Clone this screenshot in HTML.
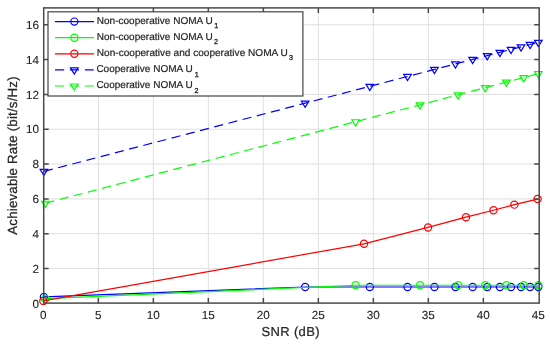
<!DOCTYPE html><html><head><meta charset="utf-8"><style>html,body{margin:0;padding:0;background:#fff;}svg{display:block;}text{text-rendering:geometricPrecision;font-family:"Liberation Sans",Arial,sans-serif;fill:#262626;stroke:#262626;stroke-width:0.22px;}</style></head><body>
<svg width="550" height="345" viewBox="0 0 550 345">
<rect width="550" height="345" fill="#fff"/>
<path d="M98.35,7.9V303.1M153.35,7.9V303.1M208.35,7.9V303.1M263.35,7.9V303.1M318.35,7.9V303.1M373.35,7.9V303.1M428.35,7.9V303.1M483.35,7.9V303.1M43.7,268.54H539.2M43.7,233.72H539.2M43.7,198.90H539.2M43.7,164.08H539.2M43.7,129.26H539.2M43.7,94.44H539.2M43.7,59.62H539.2M43.7,24.80H539.2" stroke="#dfdfdf" stroke-width="1" fill="none"/>
<defs><clipPath id="c"><rect x="37.35" y="1.3899999999999997" width="507.0" height="307.97"/></clipPath></defs>
<g clip-path="url(#c)">
<polyline points="43.90,296.92 305.15,286.99 369.81,286.99 407.50,286.99 434.45,286.99 455.45,286.99 472.66,286.99 487.23,286.99 499.88,286.99 511.04,286.99 521.04,286.99 530.09,286.99 538.35,286.99" fill="none" stroke="#0000ff" stroke-width="1.2"/>
<circle cx="43.90" cy="296.92" r="3.6" fill="none" stroke="#0000ff" stroke-width="1.2"/>
<circle cx="305.15" cy="286.99" r="3.6" fill="none" stroke="#0000ff" stroke-width="1.2"/>
<circle cx="369.81" cy="286.99" r="3.6" fill="none" stroke="#0000ff" stroke-width="1.2"/>
<circle cx="407.50" cy="286.99" r="3.6" fill="none" stroke="#0000ff" stroke-width="1.2"/>
<circle cx="434.45" cy="286.99" r="3.6" fill="none" stroke="#0000ff" stroke-width="1.2"/>
<circle cx="455.45" cy="286.99" r="3.6" fill="none" stroke="#0000ff" stroke-width="1.2"/>
<circle cx="472.66" cy="286.99" r="3.6" fill="none" stroke="#0000ff" stroke-width="1.2"/>
<circle cx="487.23" cy="286.99" r="3.6" fill="none" stroke="#0000ff" stroke-width="1.2"/>
<circle cx="499.88" cy="286.99" r="3.6" fill="none" stroke="#0000ff" stroke-width="1.2"/>
<circle cx="511.04" cy="286.99" r="3.6" fill="none" stroke="#0000ff" stroke-width="1.2"/>
<circle cx="521.04" cy="286.99" r="3.6" fill="none" stroke="#0000ff" stroke-width="1.2"/>
<circle cx="530.09" cy="286.99" r="3.6" fill="none" stroke="#0000ff" stroke-width="1.2"/>
<circle cx="538.35" cy="286.99" r="3.6" fill="none" stroke="#0000ff" stroke-width="1.2"/>
<polyline points="45.44,298.66 355.60,285.25 419.99,285.25 458.11,285.25 485.28,285.25 506.42,285.25 523.71,285.25 538.35,285.25" fill="none" stroke="#00ff00" stroke-width="1.2"/>
<circle cx="45.44" cy="298.66" r="3.6" fill="none" stroke="#00ff00" stroke-width="1.2"/>
<circle cx="355.60" cy="285.25" r="3.6" fill="none" stroke="#00ff00" stroke-width="1.2"/>
<circle cx="419.99" cy="285.25" r="3.6" fill="none" stroke="#00ff00" stroke-width="1.2"/>
<circle cx="458.11" cy="285.25" r="3.6" fill="none" stroke="#00ff00" stroke-width="1.2"/>
<circle cx="485.28" cy="285.25" r="3.6" fill="none" stroke="#00ff00" stroke-width="1.2"/>
<circle cx="506.42" cy="285.25" r="3.6" fill="none" stroke="#00ff00" stroke-width="1.2"/>
<circle cx="523.71" cy="285.25" r="3.6" fill="none" stroke="#00ff00" stroke-width="1.2"/>
<circle cx="538.35" cy="285.25" r="3.6" fill="none" stroke="#00ff00" stroke-width="1.2"/>
<polyline points="43.35,300.92 364.00,243.82 428.02,227.45 465.97,217.18 493.47,210.22 514.37,204.65 537.58,199.07" fill="none" stroke="#ff0000" stroke-width="1.2"/>
<circle cx="43.35" cy="300.92" r="3.6" fill="none" stroke="#ff0000" stroke-width="1.2"/>
<circle cx="364.00" cy="243.82" r="3.6" fill="none" stroke="#ff0000" stroke-width="1.2"/>
<circle cx="428.02" cy="227.45" r="3.6" fill="none" stroke="#ff0000" stroke-width="1.2"/>
<circle cx="465.97" cy="217.18" r="3.6" fill="none" stroke="#ff0000" stroke-width="1.2"/>
<circle cx="493.47" cy="210.22" r="3.6" fill="none" stroke="#ff0000" stroke-width="1.2"/>
<circle cx="514.37" cy="204.65" r="3.6" fill="none" stroke="#ff0000" stroke-width="1.2"/>
<circle cx="537.58" cy="199.07" r="3.6" fill="none" stroke="#ff0000" stroke-width="1.2"/>
<polyline points="43.90,171.42 305.15,103.20 369.81,86.31 407.50,76.47 434.45,69.43 455.45,63.95 472.66,59.45 487.23,55.65 499.88,52.34 511.04,49.43 521.04,46.82 530.09,44.46 538.35,42.30" fill="none" stroke="#0000ff" stroke-width="1.2" stroke-dasharray="9.1 5.57"/>
<path d="M40.10,169.42L47.70,169.42L43.90,175.62Z" fill="none" stroke="#0000ff" stroke-width="1.2" stroke-linejoin="miter"/>
<path d="M301.35,101.20L308.95,101.20L305.15,107.40Z" fill="none" stroke="#0000ff" stroke-width="1.2" stroke-linejoin="miter"/>
<path d="M366.01,84.31L373.61,84.31L369.81,90.51Z" fill="none" stroke="#0000ff" stroke-width="1.2" stroke-linejoin="miter"/>
<path d="M403.70,74.47L411.30,74.47L407.50,80.67Z" fill="none" stroke="#0000ff" stroke-width="1.2" stroke-linejoin="miter"/>
<path d="M430.65,67.43L438.25,67.43L434.45,73.63Z" fill="none" stroke="#0000ff" stroke-width="1.2" stroke-linejoin="miter"/>
<path d="M451.65,61.95L459.25,61.95L455.45,68.15Z" fill="none" stroke="#0000ff" stroke-width="1.2" stroke-linejoin="miter"/>
<path d="M468.86,57.45L476.46,57.45L472.66,63.65Z" fill="none" stroke="#0000ff" stroke-width="1.2" stroke-linejoin="miter"/>
<path d="M483.43,53.65L491.03,53.65L487.23,59.85Z" fill="none" stroke="#0000ff" stroke-width="1.2" stroke-linejoin="miter"/>
<path d="M496.08,50.34L503.68,50.34L499.88,56.54Z" fill="none" stroke="#0000ff" stroke-width="1.2" stroke-linejoin="miter"/>
<path d="M507.24,47.43L514.84,47.43L511.04,53.63Z" fill="none" stroke="#0000ff" stroke-width="1.2" stroke-linejoin="miter"/>
<path d="M517.24,44.82L524.84,44.82L521.04,51.02Z" fill="none" stroke="#0000ff" stroke-width="1.2" stroke-linejoin="miter"/>
<path d="M526.29,42.46L533.89,42.46L530.09,48.66Z" fill="none" stroke="#0000ff" stroke-width="1.2" stroke-linejoin="miter"/>
<path d="M534.55,40.30L542.15,40.30L538.35,46.50Z" fill="none" stroke="#0000ff" stroke-width="1.2" stroke-linejoin="miter"/>
<polyline points="45.44,203.23 355.60,121.74 419.99,104.82 458.11,94.80 485.28,87.66 506.42,82.11 523.71,77.57 538.35,73.72" fill="none" stroke="#00ff00" stroke-width="1.2" stroke-dasharray="9.1 5.57"/>
<path d="M41.64,201.23L49.24,201.23L45.44,207.43Z" fill="none" stroke="#00ff00" stroke-width="1.2" stroke-linejoin="miter"/>
<path d="M351.80,119.74L359.40,119.74L355.60,125.94Z" fill="none" stroke="#00ff00" stroke-width="1.2" stroke-linejoin="miter"/>
<path d="M416.19,102.82L423.79,102.82L419.99,109.02Z" fill="none" stroke="#00ff00" stroke-width="1.2" stroke-linejoin="miter"/>
<path d="M454.31,92.80L461.91,92.80L458.11,99.00Z" fill="none" stroke="#00ff00" stroke-width="1.2" stroke-linejoin="miter"/>
<path d="M481.48,85.66L489.08,85.66L485.28,91.86Z" fill="none" stroke="#00ff00" stroke-width="1.2" stroke-linejoin="miter"/>
<path d="M502.62,80.11L510.22,80.11L506.42,86.31Z" fill="none" stroke="#00ff00" stroke-width="1.2" stroke-linejoin="miter"/>
<path d="M519.91,75.57L527.51,75.57L523.71,81.77Z" fill="none" stroke="#00ff00" stroke-width="1.2" stroke-linejoin="miter"/>
<path d="M534.55,71.72L542.15,71.72L538.35,77.92Z" fill="none" stroke="#00ff00" stroke-width="1.2" stroke-linejoin="miter"/>
</g>
<path d="M98.35,303.1v-5M98.35,7.9v5M153.35,303.1v-5M153.35,7.9v5M208.35,303.1v-5M208.35,7.9v5M263.35,303.1v-5M263.35,7.9v5M318.35,303.1v-5M318.35,7.9v5M373.35,303.1v-5M373.35,7.9v5M428.35,303.1v-5M428.35,7.9v5M483.35,303.1v-5M483.35,7.9v5M43.7,268.54h5M539.2,268.54h-5M43.7,233.72h5M539.2,233.72h-5M43.7,198.90h5M539.2,198.90h-5M43.7,164.08h5M539.2,164.08h-5M43.7,129.26h5M539.2,129.26h-5M43.7,94.44h5M539.2,94.44h-5M43.7,59.62h5M539.2,59.62h-5M43.7,24.80h5M539.2,24.80h-5" stroke="#4a4a4a" stroke-width="1.5" fill="none"/>
<rect x="43.7" y="7.9" width="495.50" height="295.20" fill="none" stroke="#4a4a4a" stroke-width="1.5"/>
<text x="43.35" y="318.76" font-size="11.7" text-anchor="middle" style="stroke-width:0.12px">0</text>
<text x="98.35" y="318.76" font-size="11.7" text-anchor="middle" style="stroke-width:0.12px">5</text>
<text x="153.35" y="318.76" font-size="11.7" text-anchor="middle" style="stroke-width:0.12px">10</text>
<text x="208.35" y="318.76" font-size="11.7" text-anchor="middle" style="stroke-width:0.12px">15</text>
<text x="263.35" y="318.76" font-size="11.7" text-anchor="middle" style="stroke-width:0.12px">20</text>
<text x="318.35" y="318.76" font-size="11.7" text-anchor="middle" style="stroke-width:0.12px">25</text>
<text x="373.35" y="318.76" font-size="11.7" text-anchor="middle" style="stroke-width:0.12px">30</text>
<text x="428.35" y="318.76" font-size="11.7" text-anchor="middle" style="stroke-width:0.12px">35</text>
<text x="483.35" y="318.76" font-size="11.7" text-anchor="middle" style="stroke-width:0.12px">40</text>
<text x="538.35" y="318.76" font-size="11.7" text-anchor="middle" style="stroke-width:0.12px">45</text>
<text x="38.95" y="307.56" font-size="11.7" text-anchor="end" style="stroke-width:0.12px">0</text>
<text x="38.95" y="272.74" font-size="11.7" text-anchor="end" style="stroke-width:0.12px">2</text>
<text x="38.95" y="237.92" font-size="11.7" text-anchor="end" style="stroke-width:0.12px">4</text>
<text x="38.95" y="203.10" font-size="11.7" text-anchor="end" style="stroke-width:0.12px">6</text>
<text x="38.95" y="168.28" font-size="11.7" text-anchor="end" style="stroke-width:0.12px">8</text>
<text x="38.95" y="133.46" font-size="11.7" text-anchor="end" style="stroke-width:0.12px">10</text>
<text x="38.95" y="98.64" font-size="11.7" text-anchor="end" style="stroke-width:0.12px">12</text>
<text x="38.95" y="63.82" font-size="11.7" text-anchor="end" style="stroke-width:0.12px">14</text>
<text x="38.95" y="29.00" font-size="11.7" text-anchor="end" style="stroke-width:0.12px">16</text>
<text x="261.6" y="335.6" font-size="13" textLength="57.9" lengthAdjust="spacing">SNR (dB)</text>
<text transform="translate(16.9,234.7) rotate(-90)" font-size="13.3" textLength="158.3" lengthAdjust="spacing">Achievable Rate (bit/s/Hz)</text>
<rect x="48.0" y="11.8" width="254.89999999999998" height="84.2" fill="#fff" stroke="#444" stroke-width="1.2"/>
<path d="M54.9,21.60H94" stroke="#0000ff" stroke-width="1.2"/>
<circle cx="74.30" cy="21.60" r="3.6" fill="none" stroke="#0000ff" stroke-width="1.2"/>
<text x="96.8" y="23.50" font-size="10.0" style="stroke-width:0.2px" textLength="115.9" lengthAdjust="spacingAndGlyphs">Non-cooperative NOMA U</text>
<text x="214.2" y="28.20" font-size="7.2" style="stroke-width:0.3px">1</text>
<path d="M54.9,37.70H94" stroke="#00ff00" stroke-width="1.2"/>
<circle cx="74.30" cy="37.70" r="3.6" fill="none" stroke="#00ff00" stroke-width="1.2"/>
<text x="96.8" y="39.60" font-size="10.0" style="stroke-width:0.2px" textLength="115.9" lengthAdjust="spacingAndGlyphs">Non-cooperative NOMA U</text>
<text x="213.9" y="44.30" font-size="7.2" style="stroke-width:0.3px">2</text>
<path d="M54.9,53.80H94" stroke="#ff0000" stroke-width="1.2"/>
<circle cx="74.30" cy="53.80" r="3.6" fill="none" stroke="#ff0000" stroke-width="1.2"/>
<text x="96.8" y="55.70" font-size="10.0" style="stroke-width:0.2px" textLength="191.0" lengthAdjust="spacingAndGlyphs">Non-cooperative and cooperative NOMA U</text>
<text x="289.0" y="60.40" font-size="7.2" style="stroke-width:0.3px">3</text>
<path d="M55,69.90H64.2M69.9,69.90H79M84.9,69.90H93.7" stroke="#0000ff" stroke-width="1.2"/>
<path d="M70.50,67.90L78.10,67.90L74.30,74.10Z" fill="none" stroke="#0000ff" stroke-width="1.2" stroke-linejoin="miter"/>
<text x="96.4" y="71.80" font-size="10.0" style="stroke-width:0.2px" textLength="96.3" lengthAdjust="spacingAndGlyphs">Cooperative NOMA U</text>
<text x="194.8" y="76.50" font-size="7.2" style="stroke-width:0.3px">1</text>
<path d="M55,86.00H64.2M69.9,86.00H79M84.9,86.00H93.7" stroke="#00ff00" stroke-width="1.2"/>
<path d="M70.50,84.00L78.10,84.00L74.30,90.20Z" fill="none" stroke="#00ff00" stroke-width="1.2" stroke-linejoin="miter"/>
<text x="96.4" y="87.90" font-size="10.0" style="stroke-width:0.2px" textLength="96.3" lengthAdjust="spacingAndGlyphs">Cooperative NOMA U</text>
<text x="194.4" y="92.60" font-size="7.2" style="stroke-width:0.3px">2</text>
</svg></body></html>
